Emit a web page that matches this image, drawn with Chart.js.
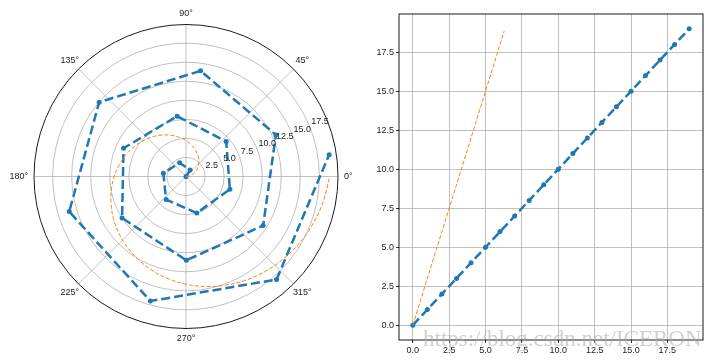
<!DOCTYPE html>
<html>
<head>
<meta charset="utf-8">
<script src="https://cdn.jsdelivr.net/npm/chart.js@4"></script>
<style>
  body { margin: 0; background: #fff; width: 713px; height: 362px; position: relative; overflow: hidden; }
  canvas { position: absolute; top: 0; }
  #polar { left: 0; }
  #cart { left: 360px; }
  #mark { position: absolute; left: 423px; top: 326px; font: 23px "Liberation Serif", serif; color: rgba(170,170,170,0.55); white-space: nowrap; pointer-events: none; }
</style>
</head>
<body>
<canvas id="polar" width="360" height="362"></canvas>
<canvas id="cart" width="353" height="362"></canvas>
<div id="mark">https://blog.csdn.net/ICERON</div>
<script>
// serie azul: theta (rad) e r
const blueTheta = [0, 1, 2, 3, 4, 5, 6, 7, 8, 9, 10, 11, 12, 13, 14, 15, 16, 17, 18, 19];
const blueR = [0, 1, 2, 3, 4, 5, 6, 7, 8, 9, 10, 11, 12, 13, 14, 15, 16, 17, 18, 19];

// serie laranja (espiral) 0..2pi
const orangeTheta = [0, 0.175, 0.349, 0.524, 0.698, 0.873, 1.047, 1.222, 1.396, 1.571, 1.745, 1.920,
  2.094, 2.269, 2.443, 2.618, 2.793, 2.967, 3.142, 3.316, 3.491, 3.665, 3.840, 4.014, 4.189, 4.363,
  4.538, 4.712, 4.887, 5.061, 5.236, 5.411, 5.585, 5.760, 5.934, 6.109, 6.283];
const orangeR = [0, 0.524, 1.047, 1.571, 2.094, 2.618, 3.142, 3.665, 4.189, 4.712, 5.236, 5.760,
  6.283, 6.807, 7.330, 7.854, 8.378, 8.901, 9.425, 9.948, 10.472, 10.996, 11.519, 12.043, 12.566, 13.090,
  13.614, 14.137, 14.661, 15.184, 15.708, 16.232, 16.755, 17.279, 17.802, 18.326, 18.850];

const radialTicks = [2.5, 5.0, 7.5, 10.0, 12.5, 15.0, 17.5];
const angleTicks = [0, 45, 90, 135, 180, 225, 270, 315];
const xTicks = [0, 2.5, 5, 7.5, 10, 12.5, 15, 17.5];
const yTicks = [0, 2.5, 5, 7.5, 10, 12.5, 15, 17.5];

const RMAX = 19.95;
const blue = '#1f77b4';
const orange = '#ff7f0e';
const font = '9px "Liberation Sans", Arial, sans-serif';

const toXY = (th, r) => th.map((t, i) => ({ x: r[i] * Math.cos(t), y: r[i] * Math.sin(t) }));

const polarGrid = {
  id: 'polarGrid',
  beforeDatasetsDraw(chart) {
    const { ctx, scales: { x, y } } = chart;
    const cx = x.getPixelForValue(0), cy = y.getPixelForValue(0);
    const R = x.getPixelForValue(RMAX) - cx;
    const k = R / RMAX;
    ctx.save();
    ctx.strokeStyle = '#b0b0b0';
    ctx.lineWidth = 0.8;
    radialTicks.forEach(r => {
      ctx.beginPath(); ctx.arc(cx, cy, r * k, 0, Math.PI * 2); ctx.stroke();
    });
    angleTicks.forEach(a => {
      const t = a * Math.PI / 180;
      ctx.beginPath(); ctx.moveTo(cx, cy);
      ctx.lineTo(cx + R * Math.cos(t), cy - R * Math.sin(t)); ctx.stroke();
    });
    ctx.restore();
  },
  afterDraw(chart) {
    const { ctx, scales: { x, y } } = chart;
    const cx = x.getPixelForValue(0), cy = y.getPixelForValue(0);
    const R = x.getPixelForValue(RMAX) - cx;
    const k = R / RMAX;
    ctx.save();
    ctx.strokeStyle = '#000';
    ctx.lineWidth = 0.9;
    ctx.beginPath(); ctx.arc(cx, cy, R, 0, Math.PI * 2); ctx.stroke();
    ctx.font = font;
    ctx.fillStyle = '#222';
    ctx.textBaseline = 'middle';
    // rotulos de angulo
    ctx.textAlign = 'center';
    angleTicks.forEach(a => {
      const t = a * Math.PI / 180;
      const txt = a + '°';
      const w = ctx.measureText(txt).width, h = 9;
      const c = Math.abs(Math.cos(t)), s = Math.abs(Math.sin(t));
      const ext = Math.min(c > 1e-6 ? (w / 2) / c : 1e9, s > 1e-6 ? (h / 2) / s : 1e9);
      const d = R + 6 + ext;
      ctx.fillText(txt, cx + d * Math.cos(t), cy - d * Math.sin(t));
    });
    // rotulos radiais a 22.5 graus
    ctx.textAlign = 'left';
    const tr = 22.5 * Math.PI / 180;
    radialTicks.forEach(r => {
      ctx.fillText(r.toFixed(1), cx + r * k * Math.cos(tr) + 2, cy - r * k * Math.sin(tr) - 3.5);
    });
    ctx.restore();
  }
};

new Chart(document.getElementById('polar'), {
  type: 'scatter',
  data: {
    datasets: [{
      data: toXY(blueTheta, blueR),
      showLine: true,
      borderColor: blue,
      backgroundColor: blue,
      borderWidth: 2.5,
      borderDash: [9, 4],
      pointRadius: 2.5,
      pointBorderWidth: 0,
      order: 2
    }, {
      data: toXY(orangeTheta, orangeR),
      showLine: true,
      borderColor: orange,
      borderWidth: 1,
      borderDash: [4, 2],
      pointRadius: 0,
      tension: 0.4,
      order: 1
    }]
  },
  options: {
    responsive: false,
    animation: false,
    layout: { padding: { left: 34, right: 22, top: 24.5, bottom: 33.5 } },
    plugins: { legend: { display: false }, tooltip: { enabled: false } },
    scales: {
      x: { type: 'linear', min: -RMAX, max: RMAX, display: false },
      y: { type: 'linear', min: -RMAX, max: RMAX, display: false }
    }
  },
  plugins: [polarGrid]
});

const frame = {
  id: 'frame',
  afterDraw(chart) {
    const { ctx, chartArea: a } = chart;
    ctx.save();
    ctx.strokeStyle = '#000';
    ctx.lineWidth = 0.9;
    ctx.strokeRect(a.left, a.top, a.right - a.left, a.bottom - a.top);
    ctx.restore();
  }
};

const axisStyle = (ticks, fit) => ({
  type: 'linear',
  min: -0.95,
  max: 19.95,
  afterBuildTicks: s => { s.ticks = ticks.map(v => ({ value: v })); },
  afterFit: fit,
  grid: { color: '#b0b0b0', lineWidth: 0.8, tickLength: 3, tickColor: '#000' },
  border: { display: false },
  ticks: { font: { family: '"Liberation Sans", Arial, sans-serif', size: 9 }, color: '#222', padding: 2,
    maxRotation: 0, autoSkip: false, callback: v => v.toFixed(1) }
});

new Chart(document.getElementById('cart'), {
  type: 'scatter',
  data: {
    datasets: [{
      data: blueTheta.map((t, i) => ({ x: t, y: blueR[i] })),
      showLine: true,
      borderColor: blue,
      backgroundColor: blue,
      borderWidth: 2.5,
      borderDash: [9, 4],
      pointRadius: 2.5,
      pointBorderWidth: 0,
      order: 2
    }, {
      data: orangeTheta.map((t, i) => ({ x: t, y: orangeR[i] })),
      showLine: true,
      borderColor: orange,
      borderWidth: 1,
      borderDash: [4, 2],
      pointRadius: 0,
      order: 1
    }]
  },
  options: {
    responsive: false,
    animation: false,
    layout: { padding: { left: 0, right: 10, top: 14, bottom: 0 } },
    plugins: { legend: { display: false }, tooltip: { enabled: false } },
    scales: {
      x: axisStyle(xTicks, s => { s.height = 22; }),
      y: axisStyle(yTicks, s => { s.width = 39; })
    }
  },
  plugins: [frame]
});
</script>
</body>
</html>
